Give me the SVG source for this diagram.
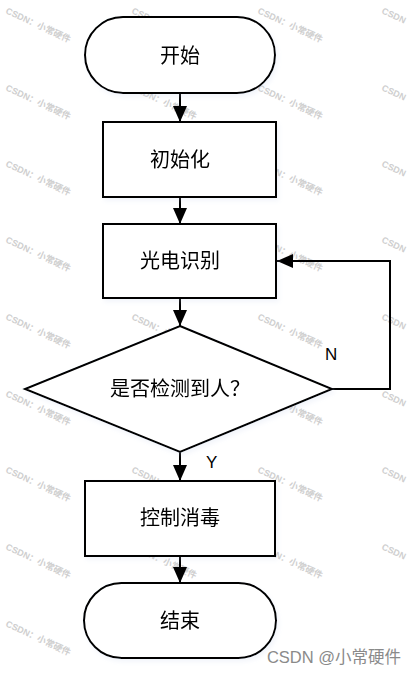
<svg xmlns="http://www.w3.org/2000/svg" width="410" height="675" viewBox="0 0 410 675">
<style>
.shape{fill:#fff;stroke:#000;stroke-width:2}
.lbl{font-family:"Liberation Sans","Noto Sans CJK SC",sans-serif;font-size:20px;fill:#000;text-anchor:middle;dominant-baseline:central}
.yn{font-family:"Liberation Sans",sans-serif;font-size:17px;fill:#000}
.line{fill:none;stroke:#000;stroke-width:2}
.wm{font-family:"Liberation Sans","Noto Sans CJK SC",sans-serif;font-size:9px;font-weight:bold;fill:#cfcfcf}
</style>
<defs>
<marker id="ah" viewBox="0 0 16 14" refX="16" refY="7" markerWidth="16" markerHeight="14" markerUnits="userSpaceOnUse" orient="auto">
<path d="M0,0 L16,7 L0,14 Z" fill="#000"/>
</marker>
<filter id="sh" x="-10%" y="-10%" width="125%" height="130%">
<feGaussianBlur in="SourceAlpha" stdDeviation="2"/>
<feOffset dx="2" dy="3"/>
<feComponentTransfer><feFuncA type="linear" slope="0.18"/></feComponentTransfer>
<feColorMatrix type="matrix" values="0 0 0 0 0.5  0 0 0 0 0.6  0 0 0 0 0.8  0 0 0 1 0"/>
<feMerge><feMergeNode/><feMergeNode in="SourceGraphic"/></feMerge>
</filter>
</defs>
<rect width="410" height="675" fill="#fff"/>
<g id="watermarks">
<g transform="translate(5,13) rotate(25)"><text class="wm">CSDN：小常硬件</text></g>
<g transform="translate(131,13) rotate(25)"><text class="wm">CSDN：小常硬件</text></g>
<g transform="translate(257,13) rotate(25)"><text class="wm">CSDN：小常硬件</text></g>
<g transform="translate(381,13) rotate(25)"><text class="wm">CSDN</text></g>
<g transform="translate(5,90) rotate(25)"><text class="wm">CSDN：小常硬件</text></g>
<g transform="translate(131,90) rotate(25)"><text class="wm">CSDN：小常硬件</text></g>
<g transform="translate(257,90) rotate(25)"><text class="wm">CSDN：小常硬件</text></g>
<g transform="translate(381,90) rotate(25)"><text class="wm">CSDN</text></g>
<g transform="translate(5,166) rotate(25)"><text class="wm">CSDN：小常硬件</text></g>
<g transform="translate(131,166) rotate(25)"><text class="wm">CSDN：小常硬件</text></g>
<g transform="translate(257,166) rotate(25)"><text class="wm">CSDN：小常硬件</text></g>
<g transform="translate(381,166) rotate(25)"><text class="wm">CSDN</text></g>
<g transform="translate(5,242) rotate(25)"><text class="wm">CSDN：小常硬件</text></g>
<g transform="translate(131,242) rotate(25)"><text class="wm">CSDN：小常硬件</text></g>
<g transform="translate(257,242) rotate(25)"><text class="wm">CSDN：小常硬件</text></g>
<g transform="translate(381,242) rotate(25)"><text class="wm">CSDN</text></g>
<g transform="translate(5,319) rotate(25)"><text class="wm">CSDN：小常硬件</text></g>
<g transform="translate(131,319) rotate(25)"><text class="wm">CSDN：小常硬件</text></g>
<g transform="translate(257,319) rotate(25)"><text class="wm">CSDN：小常硬件</text></g>
<g transform="translate(381,319) rotate(25)"><text class="wm">CSDN</text></g>
<g transform="translate(5,396) rotate(25)"><text class="wm">CSDN：小常硬件</text></g>
<g transform="translate(131,396) rotate(25)"><text class="wm">CSDN：小常硬件</text></g>
<g transform="translate(257,396) rotate(25)"><text class="wm">CSDN：小常硬件</text></g>
<g transform="translate(381,396) rotate(25)"><text class="wm">CSDN</text></g>
<g transform="translate(5,472) rotate(25)"><text class="wm">CSDN：小常硬件</text></g>
<g transform="translate(131,472) rotate(25)"><text class="wm">CSDN：小常硬件</text></g>
<g transform="translate(257,472) rotate(25)"><text class="wm">CSDN：小常硬件</text></g>
<g transform="translate(381,472) rotate(25)"><text class="wm">CSDN</text></g>
<g transform="translate(5,549) rotate(25)"><text class="wm">CSDN：小常硬件</text></g>
<g transform="translate(131,549) rotate(25)"><text class="wm">CSDN：小常硬件</text></g>
<g transform="translate(257,549) rotate(25)"><text class="wm">CSDN：小常硬件</text></g>
<g transform="translate(381,549) rotate(25)"><text class="wm">CSDN</text></g>
<g transform="translate(5,626) rotate(25)"><text class="wm">CSDN：小常硬件</text></g>
<g transform="translate(131,626) rotate(25)"><text class="wm">CSDN：小常硬件</text></g>
</g>
<g id="connectors">
<line class="line" x1="180" y1="93" x2="180" y2="122" marker-end="url(#ah)"/>
<line class="line" x1="180" y1="197" x2="180" y2="224" marker-end="url(#ah)"/>
<line class="line" x1="180" y1="298" x2="180" y2="326" marker-end="url(#ah)"/>
<line class="line" x1="180" y1="452" x2="180" y2="481" marker-end="url(#ah)"/>
<line class="line" x1="180" y1="556" x2="180" y2="583" marker-end="url(#ah)"/>
<polyline class="line" points="332,389 390,389 390,261 277,261" marker-end="url(#ah)"/>
<text class="yn" x="325" y="360">N</text>
<text class="yn" x="206" y="468">Y</text>
</g>
<g id="start" filter="url(#sh)">
<rect class="shape" x="85" y="17" width="190" height="76" rx="38" ry="38"/>
<text class="lbl" x="180" y="56">开始</text>
</g>
<g id="init" filter="url(#sh)">
<rect class="shape" x="103" y="122" width="173" height="75"/>
<text class="lbl" x="180" y="160">初始化</text>
</g>
<g id="sense" filter="url(#sh)">
<rect class="shape" x="103" y="224" width="173" height="74"/>
<text class="lbl" x="180" y="261">光电识别</text>
</g>
<g id="decision" filter="url(#sh)">
<polygon class="shape" points="180,326 332,389 180,452 25,389"/>
<text class="lbl" x="180" y="389">是否检测到人？</text>
</g>
<g id="disinfect" filter="url(#sh)">
<rect class="shape" x="85" y="481" width="190" height="75"/>
<text class="lbl" x="180" y="518">控制消毒</text>
</g>
<g id="end" filter="url(#sh)">
<rect class="shape" x="84" y="583" width="192" height="75" rx="37.5" ry="37.5"/>
<text class="lbl" x="180" y="621">结束</text>
</g>
<text x="401" y="663" text-anchor="end" font-family="Liberation Sans,Noto Sans CJK SC,sans-serif" font-size="16.5" fill="#8a8a8a">CSDN @小常硬件</text>
</svg>
